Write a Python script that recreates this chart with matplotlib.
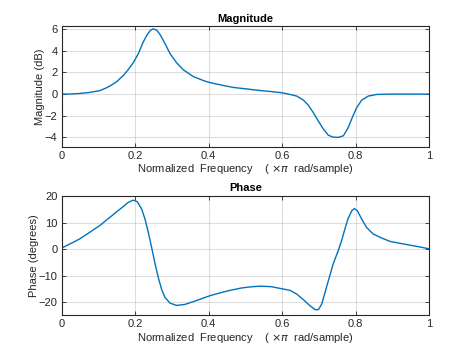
import matplotlib
matplotlib.use("Agg")
import matplotlib.pyplot as plt

plt.rcParams['font.family'] = ['Liberation Sans', 'DejaVu Sans']

# Magnitude response (dB)
mag_f = [0.0, 0.025, 0.05, 0.075, 0.104, 0.12, 0.1315, 0.150, 0.168, 0.181, 0.195, 0.209,
         0.222, 0.233, 0.242, 0.249, 0.259, 0.268, 0.281, 0.295, 0.313, 0.331, 0.358,
         0.386, 0.404, 0.44, 0.467, 0.513, 0.54, 0.57, 0.60, 0.6216, 0.640, 0.658,
         0.671, 0.685, 0.699, 0.712, 0.726, 0.739, 0.753, 0.767, 0.780, 0.792, 0.803,
         0.817, 0.835, 0.858, 0.894, 0.95, 1.0]
mag_db = [0.0, 0.01, 0.06, 0.15, 0.32, 0.55, 0.75, 1.15, 1.72, 2.25, 2.9, 3.75,
          4.8, 5.5, 5.9, 6.03, 5.9, 5.5, 4.7, 3.75, 2.9, 2.25, 1.63,
          1.25, 1.06, 0.8, 0.62, 0.44, 0.33, 0.24, 0.12, -0.03, -0.18, -0.55,
          -1.0, -1.7, -2.5, -3.2, -3.8, -3.97, -4.0, -3.85, -3.1, -2.1, -1.26,
          -0.55, -0.18, -0.03, 0.0, 0.0, 0.0]

# Phase response (degrees)
ph_f = [0.0, 0.025, 0.05, 0.075, 0.104, 0.1315, 0.150, 0.168, 0.181, 0.195, 0.206,
        0.218, 0.227, 0.236, 0.245, 0.254, 0.263, 0.272, 0.281, 0.295, 0.313, 0.336,
        0.368, 0.404, 0.43, 0.458, 0.49, 0.513, 0.54, 0.57, 0.60, 0.6216, 0.640,
        0.658, 0.676, 0.690, 0.699, 0.708, 0.717, 0.726, 0.739, 0.753, 0.762, 0.771,
        0.780, 0.790, 0.797, 0.805, 0.817, 0.830, 0.848, 0.871, 0.894, 0.92, 0.948,
        0.975, 1.0]
ph_deg = [0.4, 2.1, 3.9, 6.2, 8.9, 12.0, 14.1, 16.1, 17.6, 18.5, 17.9,
          15.1, 11.3, 6.3, 0.6, -5.3, -10.7, -15.1, -18.2, -20.4, -21.3, -20.9,
          -19.4, -17.6, -16.6, -15.6, -14.7, -14.3, -14.0, -14.2, -15.0, -15.6, -17.0,
          -19.1, -21.4, -22.9, -22.9, -20.8, -16.4, -12.0, -5.7, -0.6, 3.1, 7.5,
          11.6, 14.5, 15.3, 14.5, 11.3, 8.2, 5.7, 4.2, 2.9, 2.2, 1.5,
          0.8, 0.1]

xticks = [0, 0.2, 0.4, 0.6, 0.8, 1]
xticklabels = ['0', '0.2', '0.4', '0.6', '0.8', '1']
mag_yticks = [-4, -2, 0, 2, 4, 6]
ph_yticks = [-20, -10, 0, 10, 20]

line_color = (0, 0.447, 0.741)
axis_color = (0.15, 0.15, 0.15)
xlabel = 'Normalized  Frequency    ( $\\times\\pi$  rad/sample)'

fig = plt.figure(figsize=(4.74, 3.55), dpi=100)
ax1 = fig.add_axes([0.130, 0.587, 0.775, 0.340])
ax2 = fig.add_axes([0.130, 0.112, 0.775, 0.337])

def style(ax):
    ax.set_xlim(0, 1)
    ax.set_xticks(xticks)
    ax.set_xticklabels(xticklabels)
    ax.grid(True, color=(0.15, 0.15, 0.15), alpha=0.15, linewidth=0.8)
    ax.tick_params(direction='in', length=3, width=0.6, colors=axis_color,
                   labelsize=8, top=True, right=True, pad=3)
    for s in ax.spines.values():
        s.set_color(axis_color)
        s.set_linewidth(0.8)
    ax.set_axisbelow(True)

ax1.plot(mag_f, mag_db, color=line_color, linewidth=1.0)
style(ax1)
ax1.set_ylim(-4.85, 6.3)
ax1.set_yticks(mag_yticks)
ax1.set_title('Magnitude', fontsize=8, fontweight='bold', color='black', pad=3)
ax1.set_ylabel('Magnitude (dB)', fontsize=8, color=axis_color, labelpad=0)
ax1.set_xlabel(xlabel, fontsize=8, color=axis_color, labelpad=1)

ax2.plot(ph_f, ph_deg, color=line_color, linewidth=1.0)
style(ax2)
ax2.set_ylim(-25, 20.2)
ax2.set_yticks(ph_yticks)
ax2.set_title('Phase', fontsize=8, fontweight='bold', color='black', pad=3)
ax2.set_ylabel('Phase (degrees)', fontsize=8, color=axis_color, labelpad=0)
ax2.set_xlabel(xlabel, fontsize=8, color=axis_color, labelpad=1)

fig.savefig('out.png', dpi=100)
